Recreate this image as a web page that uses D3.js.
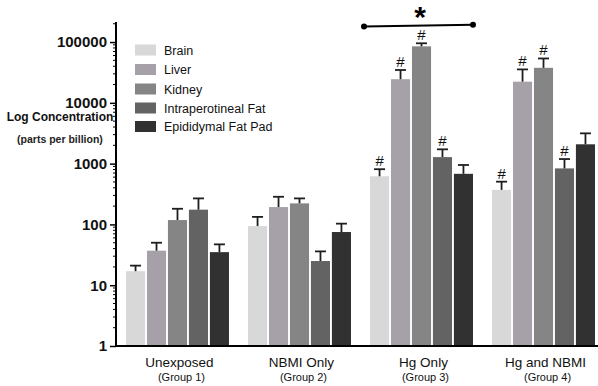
<!DOCTYPE html>
<html>
<head>
<meta charset="utf-8">
<script src="https://cdn.jsdelivr.net/npm/d3@7"></script>
<style>
body { margin: 0; background: #fff; }
svg { font-family: "Liberation Sans", Arial, sans-serif; }
</style>
</head>
<body>
<div id="chart"></div>
<script>
var groups = ["Unexposed", "NBMI Only", "Hg Only", "Hg and NBMI"];
var groupSubs = ["(Group 1)", "(Group 2)", "(Group 3)", "(Group 4)"];
var tissues = ["Brain", "Liver", "Kidney", "Intraperotineal Fat", "Epididymal Fat Pad"];
var colors = ["#d8d8d8", "#a6a1a8", "#858585", "#636363", "#313131"];

// mean values per tissue, one per group
var brain = [17, 94, 620, 370];
var liver = [37, 193, 24500, 22300];
var kidney = [118, 222, 85000, 37700];
var ipFat = [175, 25, 1280, 835];
var epiFat = [35, 75, 680, 2080];

// top of error bar (mean + error)
var brainErr = [21, 133, 810, 505];
var liverErr = [50, 285, 34700, 35500];
var kidneyErr = [181, 268, 95500, 53700];
var ipFatErr = [268, 36, 1720, 1190];
var epiFatErr = [47, 103, 950, 3150];

// "#" marks (significant vs control)
var brainSig = [0, 0, 1, 1];
var liverSig = [0, 0, 1, 1];
var kidneySig = [0, 0, 1, 1];
var ipFatSig = [0, 0, 1, 1];
var epiFatSig = [0, 0, 0, 0];

var yTicks = [1, 10, 100, 1000, 10000, 100000];

var means = [brain, liver, kidney, ipFat, epiFat];
var errs = [brainErr, liverErr, kidneyErr, ipFatErr, epiFatErr];
var sigs = [brainSig, liverSig, kidneySig, ipFatSig, epiFatSig];

var rows = [];
groups.forEach(function(g, gi) {
  tissues.forEach(function(t, ti) {
    rows.push({group: g, tissue: t, value: means[ti][gi], err: errs[ti][gi], sig: sigs[ti][gi], ti: ti});
  });
});

var width = 598, height = 386;
var margin = {left: 116, bottom: 346, top: 22};

var svg = d3.select("#chart").append("svg")
  .attr("width", width)
  .attr("height", height);

var y = d3.scaleLog()
  .domain([1, Math.pow(10, 5.33)])
  .range([margin.bottom, margin.top]);

var x0 = d3.scaleBand()
  .domain(groups)
  .range([margin.left, 605])
  .paddingInner(0.156)
  .paddingOuter(0.082);

var x1 = d3.scaleBand()
  .domain(tissues)
  .range([0, x0.bandwidth()])
  .paddingInner(0.09);

var color = d3.scaleOrdinal().domain(tissues).range(colors);

var cx = d => x0(d.group) + x1(d.tissue) + x1.bandwidth() / 2;

// bars
svg.append("g")
  .selectAll("rect")
  .data(rows)
  .join("rect")
    .attr("x", d => x0(d.group) + x1(d.tissue))
    .attr("y", d => y(d.value))
    .attr("width", x1.bandwidth())
    .attr("height", d => margin.bottom - y(d.value))
    .attr("fill", d => color(d.tissue));

// error bars
var eb = svg.append("g").attr("stroke", "#1e1e1e").attr("stroke-width", 1.8);
eb.selectAll("line.v")
  .data(rows)
  .join("line")
    .attr("class", "v")
    .attr("x1", cx)
    .attr("x2", cx)
    .attr("y1", d => y(d.value))
    .attr("y2", d => y(d.err));
eb.selectAll("line.c")
  .data(rows)
  .join("line")
    .attr("class", "c")
    .attr("x1", d => cx(d) - 5.5)
    .attr("x2", d => cx(d) + 5.5)
    .attr("y1", d => y(d.err))
    .attr("y2", d => y(d.err));

// # marks
svg.append("g")
  .selectAll("text")
  .data(rows.filter(d => d.sig))
  .join("text")
    .attr("x", cx)
    .attr("y", d => y(d.err) - 3)
    .attr("text-anchor", "middle")
    .style("font-size", "15px")
    .style("fill", "#111")
    .text("#");

// y axis
var minor = [];
for (var e = 0; e < 6; e++) {
  for (var m = 2; m <= 9; m++) {
    var v = m * Math.pow(10, e);
    if (v <= y.domain()[1]) minor.push(v);
  }
}
var yAxis = svg.append("g")
  .attr("transform", `translate(${margin.left},0)`)
  .call(d3.axisLeft(y).tickValues(yTicks).tickFormat(d3.format("d")).tickSize(6).tickPadding(3));
yAxis.select(".domain").remove();
yAxis.selectAll(".tick line").attr("stroke", "#000").attr("stroke-width", 1.5);
yAxis.selectAll("text")
  .style("font-size", "15px")
  .style("font-weight", "bold")
  .style("fill", "#111");

svg.append("g")
  .selectAll("line")
  .data(minor)
  .join("line")
    .attr("x1", margin.left - 3)
    .attr("x2", margin.left)
    .attr("y1", d => y(d))
    .attr("y2", d => y(d))
    .attr("stroke", "#000")
    .attr("stroke-width", 1);

svg.append("line")
  .attr("x1", margin.left).attr("x2", margin.left)
  .attr("y1", margin.top).attr("y2", margin.bottom + 1)
  .attr("stroke", "#000").attr("stroke-width", 2);

svg.append("line")
  .attr("x1", margin.left).attr("x2", width)
  .attr("y1", margin.bottom).attr("y2", margin.bottom)
  .attr("stroke", "#000").attr("stroke-width", 2);

// x labels
svg.append("g")
  .selectAll("text")
  .data(groups)
  .join("text")
    .attr("x", d => x0(d) + x0.bandwidth() / 2 + 2)
    .attr("y", 367)
    .attr("text-anchor", "middle")
    .style("font-size", "13.5px")
    .style("fill", "#111")
    .text(d => d);
svg.append("g")
  .selectAll("text")
  .data(groupSubs)
  .join("text")
    .attr("x", (d, i) => x0(groups[i]) + x0.bandwidth() / 2 + 4)
    .attr("y", 381)
    .attr("text-anchor", "middle")
    .style("font-size", "11px")
    .style("fill", "#111")
    .text(d => d);

// y title
svg.append("text")
  .attr("x", 60).attr("y", 121)
  .attr("text-anchor", "middle")
  .style("font-size", "12px").style("font-weight", "bold").style("fill", "#111")
  .text("Log Concentration");
svg.append("text")
  .attr("x", 60).attr("y", 143)
  .attr("text-anchor", "middle")
  .style("font-size", "10.5px").style("font-weight", "bold").style("fill", "#222")
  .text("(parts per billion)");

// legend
var legY = [50, 69.5, 89, 108, 126.5];
var leg = svg.append("g")
  .selectAll("g")
  .data(tissues)
  .join("g")
    .attr("transform", (d, i) => `translate(135,${legY[i]})`);
leg.append("rect")
  .attr("x", 0).attr("y", -5.5)
  .attr("width", 21).attr("height", 11)
  .attr("fill", d => color(d));
leg.append("text")
  .attr("x", 29).attr("y", 4.5)
  .style("font-size", "12.5px")
  .style("fill", "#111")
  .text(d => d);

// significance bracket over Hg Only
var sx1 = 364, sx2 = 473;
svg.append("line")
  .attr("x1", sx1).attr("y1", 26.5)
  .attr("x2", sx2).attr("y2", 24.7)
  .attr("stroke", "#000").attr("stroke-width", 2);
svg.append("circle").attr("cx", sx1).attr("cy", 26.5).attr("r", 3).attr("fill", "#000");
svg.append("circle").attr("cx", sx2).attr("cy", 24.7).attr("r", 3).attr("fill", "#000");
svg.append("text")
  .attr("x", 420).attr("y", 27)
  .attr("text-anchor", "middle")
  .style("font-size", "30px").style("font-weight", "bold")
  .text("*");
</script>
</body>
</html>
